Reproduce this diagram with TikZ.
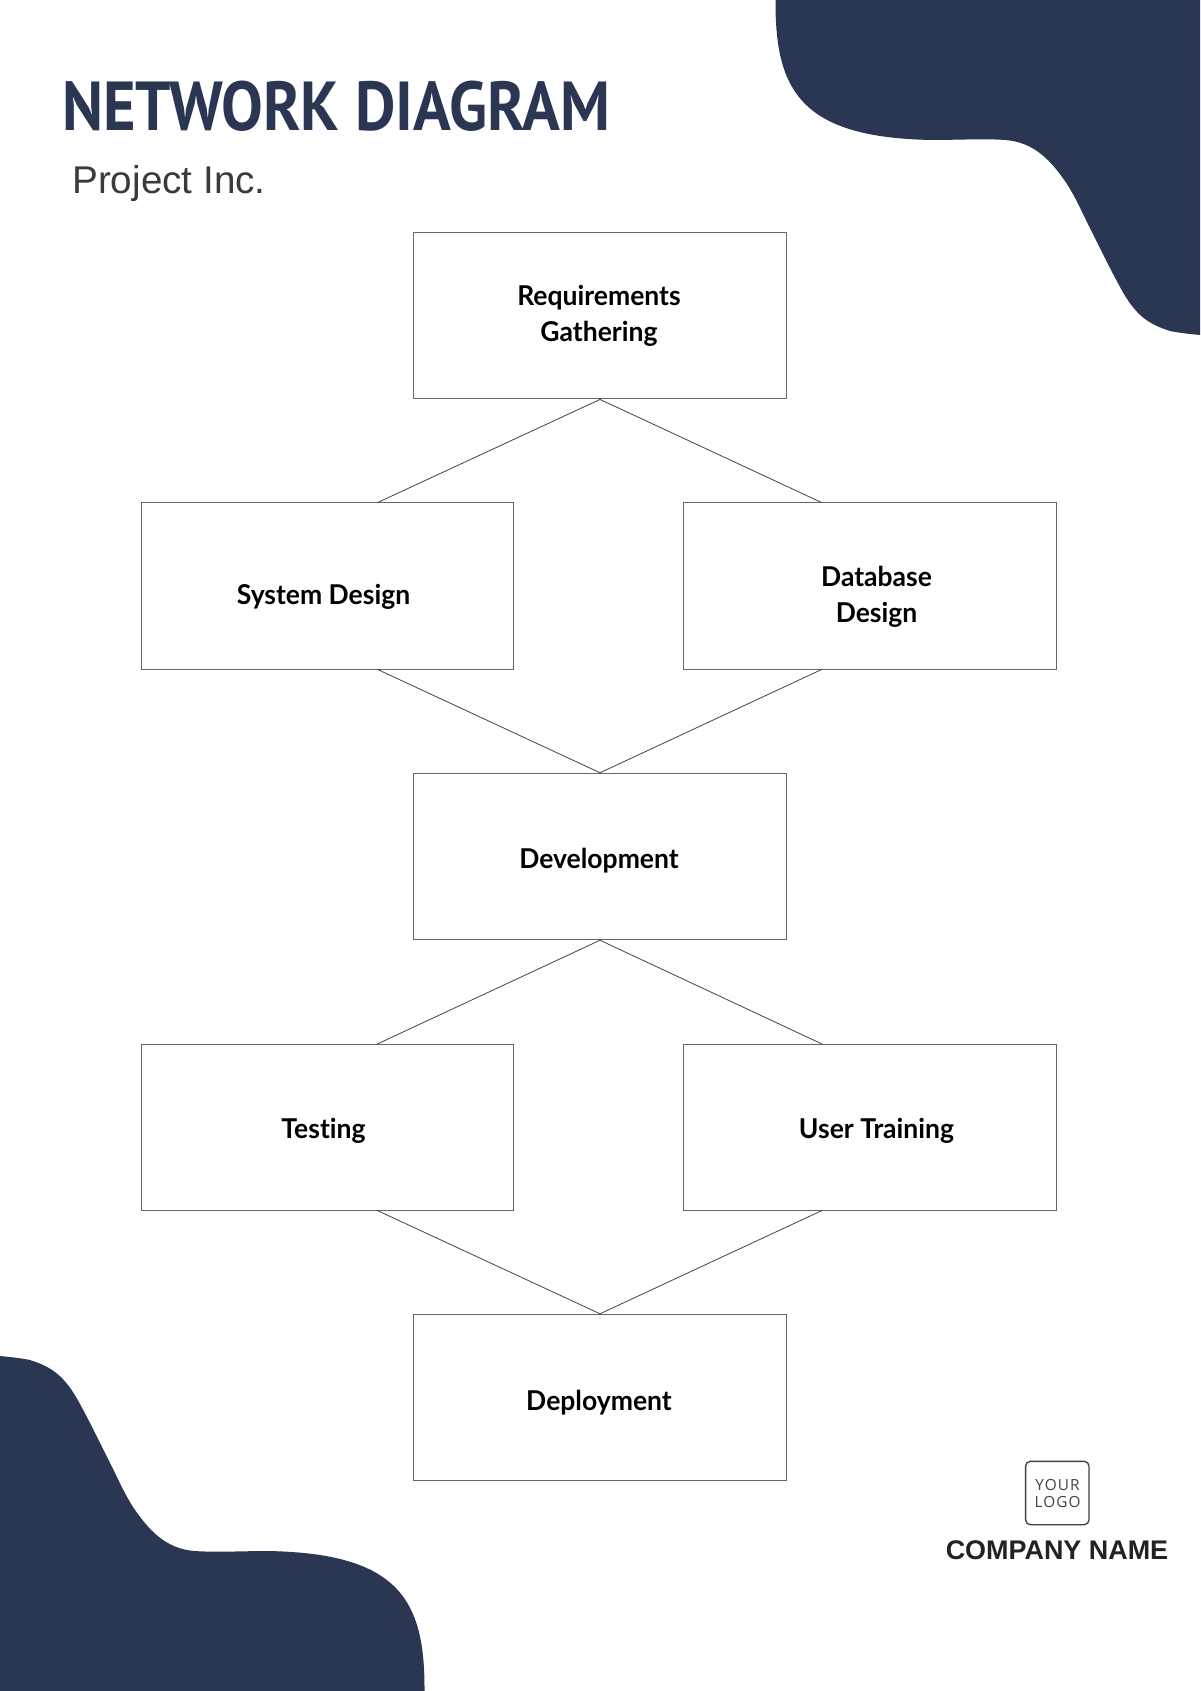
\documentclass[tikz,border=0pt]{standalone}
\usepackage{fontspec}
\setmainfont{Liberation Sans}
\newfontfamily\titlefont{PT Sans}[FakeStretch=0.9]
\newfontfamily\lblfont{Lato}[Ligatures=CommonOff,FakeStretch=0.97]
\newfontfamily\logofont{Open Sans}[LetterSpace=7]
\definecolor{navy}{HTML}{2B3653}
\definecolor{boxline}{HTML}{666666}
\definecolor{linkline}{HTML}{444444}
\definecolor{subgrey}{HTML}{3A3A3A}
\definecolor{logoink}{HTML}{222222}
\tikzset{
  blob/.style={fill=navy,draw=none},
  pbox/.style={draw=boxline,line width=0.8pt,fill=none,inner sep=0pt,minimum width=279.4pt,minimum height=124.8pt},
  link/.style={draw=linkline,line width=0.6pt},
  lbl/.style={anchor=base,inner sep=0pt,text=black,font=\lblfont\bfseries\fontsize{20.5}{24}\selectfont},
  titletxt/.style={anchor=base west,inner sep=0pt,text=navy,font=\titlefont\bfseries\fontsize{52}{60}\selectfont},
  subtxt/.style={anchor=base west,inner sep=0pt,text=subgrey,font=\fontsize{29}{33}\selectfont},
  logotxt/.style={anchor=base,inner sep=0pt,text=logoink!85,font=\logofont\fontsize{11.5}{14}\selectfont},
  comptxt/.style={anchor=base,inner sep=0pt,text=logoink,font=\bfseries\fontsize{20.2}{24}\selectfont},
  logobox/.style={draw=logoink!85,line width=1pt,rounded corners=3.5pt,inner sep=0pt,minimum size=47.5pt},
}
\newcommand{\blobpath}{(775.5,0) .. controls (775,90) and (800,138) .. (933,140)
  .. controls (955,140) and (985,138.5) .. (1005,140)
  .. controls (1035,142) and (1052,162) .. (1067,184)
  .. controls (1072,192) and (1078,203) .. (1082,212)
  .. controls (1095,238) and (1108,265) .. (1120,287)
  .. controls (1135,315) and (1148,324) .. (1170,331)
  .. controls (1180,333) and (1190,334) .. (1200,335)
  -- (1200,0) -- cycle}
\begin{document}
\begin{tikzpicture}[x=0.75pt,y=-0.75pt]
\useasboundingbox (0,0) rectangle (1200,1691);
\fill[white] (0,0) rectangle (1200,1691);
% corner shapes
\path[blob] \blobpath;
\begin{scope}[shift={(1200,1691)},xscale=-1,yscale=-1]
\path[blob] \blobpath;
\end{scope}
% heading
\node[titletxt] (title) at (62,131) {NETWORK DIAGRAM};
\node[subtxt] (sub) at (72,194) {Project Inc.};
% boxes
\node[pbox] (req) at (600,315.7) {};
\node[pbox] (sys) at (327.5,586) {};
\node[pbox] (db) at (870,586) {};
\node[pbox] (dev) at (600,856.5) {};
\node[pbox] (test) at (327.5,1127.3) {};
\node[pbox] (ut) at (870,1127.3) {};
\node[pbox] (dep) at (600,1397.5) {};
% box texts
\node[lbl] (reqa) at (599,305) {Requirements};
\node[lbl] (reqb) at (599,341) {Gathering};
\node[lbl] (syst) at (323.5,604) {System Design};
\node[lbl] (dba) at (876.5,586) {Database};
\node[lbl] (dbb) at (876.5,622) {Design};
\node[lbl] (devt) at (599,868) {Development};
\node[lbl] (testt) at (323.5,1138) {Testing};
\node[lbl] (utt) at (876.5,1138) {User Training};
\node[lbl] (dept) at (599,1410) {Deployment};
% connector ends on the box edges
\coordinate (sysT) at (377.3,502.7);
\coordinate (dbT) at (822,502.7);
\coordinate (sysB) at (377.3,669.3);
\coordinate (dbB) at (822,669.3);
\coordinate (testT) at (377.3,1044);
\coordinate (utT) at (822,1044);
\coordinate (testB) at (377.3,1210.5);
\coordinate (utB) at (822,1210.5);
\draw[link] (req.south) -- (sysT);
\draw[link] (req.south) -- (dbT);
\draw[link] (sysB) -- (dev.north);
\draw[link] (dbB) -- (dev.north);
\draw[link] (dev.south) -- (testT);
\draw[link] (dev.south) -- (utT);
\draw[link] (testB) -- (dep.north);
\draw[link] (utB) -- (dep.north);
% logo
\node[logobox] (logo) at (1057.3,1493) {};
\node[logotxt] (logoa) at (1057.5,1490.5) {YOUR};
\node[logotxt] (logob) at (1057.5,1507.5) {LOGO};
\node[comptxt] (comp) at (1057,1559) {COMPANY NAME};
\end{tikzpicture}
\end{document}
